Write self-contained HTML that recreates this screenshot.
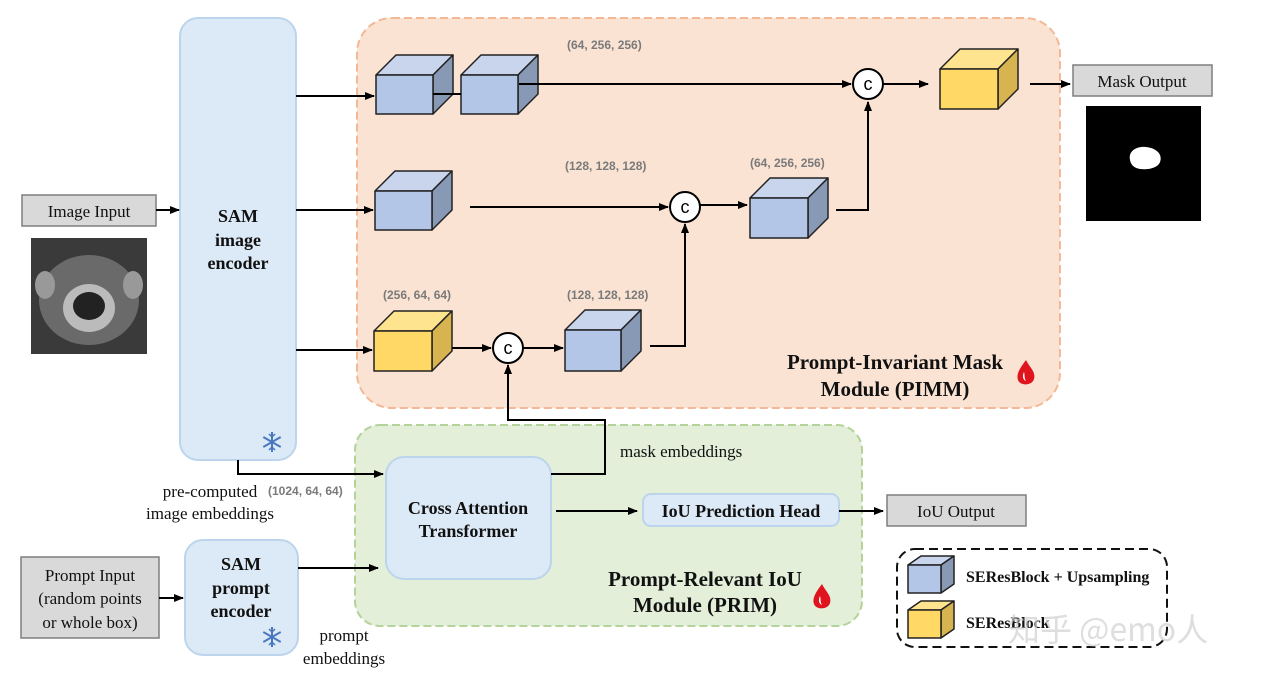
<!DOCTYPE html>
<html><head><meta charset="utf-8"><style>
html,body{margin:0;padding:0;background:#fff}
svg{display:block}
.s{font-family:"Liberation Serif",serif;font-size:17px;fill:#111}
.b{font-family:"Liberation Serif",serif;font-weight:bold;fill:#111}
.d{font-family:"Liberation Sans",sans-serif;font-weight:bold;font-size:12px;fill:#7a7a7a}
.ln{stroke:#000;stroke-width:2;fill:none}
</style></head><body>
<svg width="1280" height="679" viewBox="0 0 1280 679" xmlns="http://www.w3.org/2000/svg">
<defs>
<marker id="a" markerWidth="10" markerHeight="8" refX="9" refY="4" orient="auto" markerUnits="userSpaceOnUse"><path d="M0,0 L10,4 L0,8 Z" fill="#000"/></marker>
<g id="fl"><path d="M8,0 C2,8 -2,14 0,20 C2,26 14,26 16,19 C18,12 12,8 8,0 Z" fill="#e0141e"/><path d="M6,12 C4,16 5,20 8,21 C6,18 7,15 6,12Z" fill="#fff"/></g>
<g id="sn" stroke="#4a78c0" stroke-width="2" fill="none"><path d="M0,-10V10M-8.7,-5L8.7,5M-8.7,5L8.7,-5"/><path d="M-3,-8L0,-5L3,-8M-3,8L0,5L3,8" stroke-width="1.5"/></g>
</defs>

<rect x="357" y="18" width="703" height="390" rx="35" fill="#fbe3d3" stroke="#f3b896" stroke-width="2" stroke-dasharray="8,4"/>
<rect x="355" y="425" width="507" height="201" rx="25" fill="#e3efd9" stroke="#b3d39a" stroke-width="2" stroke-dasharray="8,4"/>

<rect x="180" y="18" width="116" height="442" rx="18" fill="#dce9f6" stroke="#bcd5ec" stroke-width="2"/>
<text class="b" font-size="18" text-anchor="middle"><tspan x="238" y="222">SAM</tspan><tspan x="238" y="246">image</tspan><tspan x="238" y="269">encoder</tspan></text>
<use href="#sn" x="272" y="442"/>

<rect x="185" y="540" width="113" height="115" rx="18" fill="#dce9f6" stroke="#bcd5ec" stroke-width="2"/>
<text class="b" font-size="18" text-anchor="middle"><tspan x="241" y="570">SAM</tspan><tspan x="241" y="594">prompt</tspan><tspan x="241" y="617">encoder</tspan></text>
<use href="#sn" x="272" y="637"/>

<rect x="386" y="457" width="165" height="122" rx="18" fill="#dce9f6" stroke="#bcd5ec" stroke-width="2"/>
<text class="b" font-size="18" text-anchor="middle"><tspan x="468" y="514">Cross Attention</tspan><tspan x="468" y="537">Transformer</tspan></text>
<rect x="643" y="494" width="196" height="32" rx="8" fill="#dce9f6" stroke="#bcd5ec" stroke-width="2"/>
<text class="b" font-size="18" x="741" y="517" text-anchor="middle">IoU Prediction Head</text>

<g fill="#d9d9d9" stroke="#7f7f7f" stroke-width="1.5">
<rect x="22" y="195" width="134" height="31"/>
<rect x="1073" y="65" width="139" height="31"/>
<rect x="887" y="495" width="139" height="31"/>
<rect x="21" y="557" width="138" height="81"/>
</g>
<text class="s" x="89" y="217" text-anchor="middle">Image Input</text>
<text class="s" x="1142" y="87" text-anchor="middle">Mask Output</text>
<text class="s" x="956" y="517" text-anchor="middle">IoU Output</text>
<text class="s" text-anchor="middle"><tspan x="90" y="581">Prompt Input</tspan><tspan x="90" y="604">(random points</tspan><tspan x="90" y="628">or whole box)</tspan></text>

<rect x="31" y="238" width="116" height="116" fill="#3a3a3a"/>
<ellipse cx="89" cy="300" rx="50" ry="45" fill="#6a6a6a"/>
<ellipse cx="89" cy="308" rx="26" ry="24" fill="#bbb"/>
<ellipse cx="89" cy="306" rx="16" ry="14" fill="#222"/>
<ellipse cx="45" cy="285" rx="10" ry="14" fill="#999"/>
<ellipse cx="133" cy="285" rx="10" ry="14" fill="#999"/>
<rect x="1086" y="106" width="115" height="115" fill="#000"/>
<path d="M1130,160 C1128,150 1138,146 1146,147 C1156,148 1163,154 1160,162 C1158,168 1148,170 1140,169 C1134,168 1131,165 1130,160Z" fill="#fff"/>

<g stroke="#222" stroke-width="1.5" stroke-linejoin="round">
<g id="cb">
<path d="M376,75 L396,55 L453,55 L433,75 Z" fill="#c8d5ed"/>
<path d="M433,75 L453,55 L453,94 L433,114 Z" fill="#8899b6"/>
<rect x="376" y="75" width="57" height="39" fill="#b4c6e7"/>
</g>
<use href="#cb" x="85"/>
<use href="#cb" x="-1" y="116"/>
<path d="M750,198 L770,178 L828,178 L808,198 Z" fill="#c8d5ed"/>
<path d="M808,198 L828,178 L828,218 L808,238 Z" fill="#8899b6"/>
<rect x="750" y="198" width="58" height="40" fill="#b4c6e7"/>
<path d="M565,330 L585,310 L641,310 L621,330 Z" fill="#c8d5ed"/>
<path d="M621,330 L641,310 L641,351 L621,371 Z" fill="#8899b6"/>
<rect x="565" y="330" width="56" height="41" fill="#b4c6e7"/>
<g id="cy">
<path d="M374,331 L394,311 L452,311 L432,331 Z" fill="#ffe48f"/>
<path d="M432,331 L452,311 L452,351 L432,371 Z" fill="#d8b451"/>
<rect x="374" y="331" width="58" height="40" fill="#ffd866"/>
</g>
<use href="#cy" x="566" y="-262"/>
<path d="M908,565 L921,556 L954,556 L941,565 Z" fill="#c8d5ed"/>
<path d="M941,565 L954,556 L954,584 L941,593 Z" fill="#8899b6"/>
<rect x="908" y="565" width="33" height="28" fill="#b4c6e7"/>
<path d="M908,610 L921,601 L954,601 L941,610 Z" fill="#ffe48f"/>
<path d="M941,610 L954,601 L954,629 L941,638 Z" fill="#d8b451"/>
<rect x="908" y="610" width="33" height="28" fill="#ffd866"/>
</g>

<rect x="897" y="549" width="270" height="98" rx="18" fill="none" stroke="#111" stroke-width="2" stroke-dasharray="9,5"/>
<text class="b" font-size="16" x="966" y="582">SEResBlock + Upsampling</text>
<text class="b" font-size="16" x="966" y="628">SEResBlock</text>

<g fill="#fff" stroke="#000" stroke-width="2">
<circle cx="868" cy="84" r="15"/><circle cx="685" cy="207" r="15"/><circle cx="508" cy="348" r="15"/>
</g>
<g font-family="Liberation Sans,sans-serif" font-size="18" text-anchor="middle">
<text x="868" y="90">c</text><text x="685" y="213">c</text><text x="508" y="354">c</text></g>

<g class="ln" marker-end="url(#a)">
<path d="M296,96H374"/>
<path d="M519,84H851"/>
<path d="M883,84H928"/>
<path d="M1030,84H1070"/>
<path d="M156,210H179"/>
<path d="M296,210H373"/>
<path d="M470,207H668"/>
<path d="M700,205H747"/>
<path d="M836,210H868V102"/>
<path d="M296,350H372"/>
<path d="M452,348H491"/>
<path d="M523,348H563"/>
<path d="M650,346H685V224"/>
<path d="M551,474H605V420H508V365"/>
<path d="M238,460V474H383"/>
<path d="M556,511H637"/>
<path d="M839,511H883"/>
<path d="M159,598H183"/>
<path d="M298,568H378"/>
</g>
<path class="ln" d="M433,94H461"/>

<text class="d" x="567" y="49">(64, 256, 256)</text>
<text class="d" x="565" y="170">(128, 128, 128)</text>
<text class="d" x="750" y="167">(64, 256, 256)</text>
<text class="d" x="383" y="299">(256, 64, 64)</text>
<text class="d" x="567" y="299">(128, 128, 128)</text>
<text class="d" x="268" y="495">(1024, 64, 64)</text>

<text class="s" x="620" y="457">mask embeddings</text>
<text class="s" text-anchor="middle"><tspan x="210" y="497">pre-computed</tspan><tspan x="210" y="519">image embeddings</tspan></text>
<text class="s" text-anchor="middle"><tspan x="344" y="641">prompt</tspan><tspan x="344" y="664">embeddings</tspan></text>

<text class="b" font-size="21" text-anchor="middle"><tspan x="895" y="369">Prompt-Invariant Mask</tspan><tspan x="895" y="396">Module (PIMM)</tspan></text>
<use href="#fl" x="1018" y="360"/>
<text class="b" font-size="21" text-anchor="middle"><tspan x="705" y="586">Prompt-Relevant IoU</tspan><tspan x="705" y="612">Module (PRIM)</tspan></text>
<use href="#fl" x="814" y="584"/>

<text x="1008" y="641" font-family="Noto Sans CJK SC,sans-serif" font-size="32" fill="#d0d0d0" fill-opacity="0.7">知乎 @emo人</text>
</svg>
</body></html>
